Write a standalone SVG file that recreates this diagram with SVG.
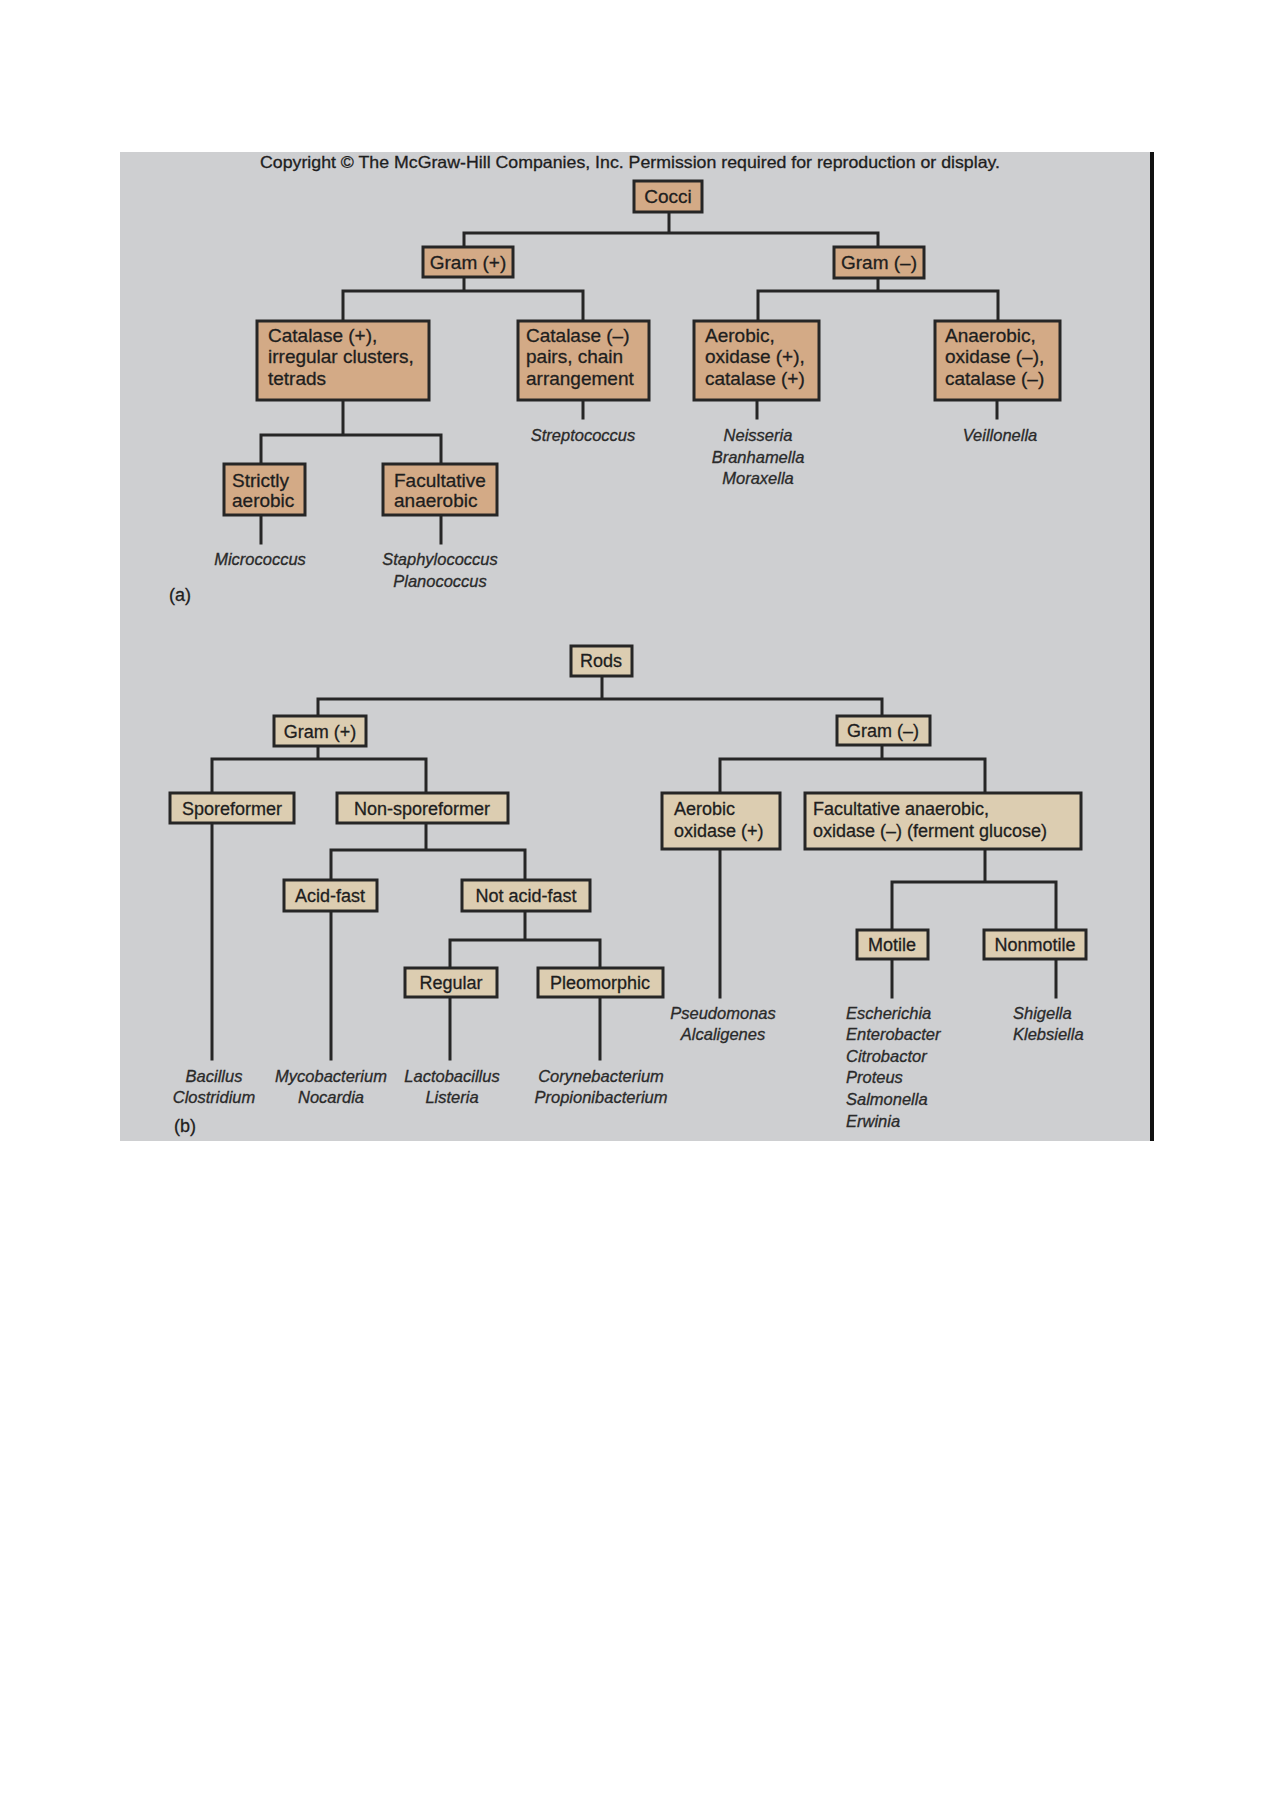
<svg xmlns="http://www.w3.org/2000/svg" width="1280" height="1811" viewBox="0 0 1280 1811">
<style>
.bg{fill:#ffffff}
.panel{fill:#cecfd1}
.boxA{fill:#d3aa86;stroke:#262626;stroke-width:3}
.boxB{fill:#dccdb1;stroke:#262626;stroke-width:3}
.conn{fill:none;stroke:#262626;stroke-width:3;stroke-linecap:square}
.t{font-family:"Liberation Sans",Arial,sans-serif;fill:#1e1e1e;stroke:#1e1e1e;stroke-width:0.3}
.ta{font-size:19px}
.tb{font-size:18px}
.c{text-anchor:middle}
.sp{font-family:"Liberation Sans",Arial,sans-serif;font-style:italic;font-size:16.5px;fill:#2a2a2a;stroke:#2a2a2a;stroke-width:0.3}
</style>
<rect class="bg" x="0" y="0" width="1280" height="1811"/>
<rect class="panel" x="120" y="152" width="1032" height="989"/>
<rect x="1150" y="152" width="4" height="989" fill="#111111"/>
<text class="t" x="260" y="168" font-size="16.5" textLength="740" lengthAdjust="spacingAndGlyphs">Copyright © The McGraw-Hill Companies, Inc. Permission required for reproduction or display.</text>

<g id="connectors">
<path class="conn" d="M669 212 V233 M464 233 H878 M464 233 V247 M878 233 V247
M464 277 V291 M343 291 H583 M343 291 V321 M583 291 V321
M878 278 V291 M758 291 H998 M758 291 V321 M998 291 V321
M343 400 V435 M261 435 H441 M261 435 V464 M441 435 V464
M261 515 V543 M441 515 V543
M583 400 V418 M757 400 V418 M997 400 V418
M602 676 V699 M318 699 H882 M318 699 V716 M882 699 V716
M318 746 V759 M212 759 H426 M212 759 V793 M426 759 V793
M882 745 V759 M720 759 H985 M720 759 V793 M985 759 V793
M212 823 V1059
M426 823 V850 M331 850 H525 M331 850 V880 M525 850 V880
M331 911 V1059
M525 911 V940 M450 940 H600 M450 940 V968 M600 940 V968
M450 997 V1059 M600 997 V1059
M720 849 V997
M985 849 V882 M892 882 H1056 M892 882 V930 M1056 882 V930
M892 959 V997 M1056 959 V997"/>
</g>

<!-- (a) Cocci -->
<g id="cocci"><rect class="boxA" x="634" y="181" width="68" height="31"/><text class="t ta c" x="668" y="203">Cocci</text></g>
<g id="gram-pos-a"><rect class="boxA" x="423" y="247" width="90" height="30"/><text class="t ta c" x="468" y="269">Gram (+)</text></g>
<g id="gram-neg-a"><rect class="boxA" x="834" y="247" width="90" height="31"/><text class="t ta c" x="879" y="269">Gram (–)</text></g>
<g id="catalase-pos"><rect class="boxA" x="257" y="321" width="172" height="79"/>
<text class="t ta" x="268" y="342">Catalase (+),</text><text class="t ta" x="268" y="363">irregular clusters,</text><text class="t ta" x="268" y="385">tetrads</text></g>
<g id="catalase-neg"><rect class="boxA" x="518" y="321" width="131" height="79"/>
<text class="t ta" x="526" y="342">Catalase (–)</text><text class="t ta" x="526" y="363">pairs, chain</text><text class="t ta" x="526" y="385">arrangement</text></g>
<g id="aerobic-a"><rect class="boxA" x="694" y="321" width="125" height="79"/>
<text class="t ta" x="705" y="342">Aerobic,</text><text class="t ta" x="705" y="363">oxidase (+),</text><text class="t ta" x="705" y="385">catalase (+)</text></g>
<g id="anaerobic-a"><rect class="boxA" x="935" y="321" width="125" height="79"/>
<text class="t ta" x="945" y="342">Anaerobic,</text><text class="t ta" x="945" y="363">oxidase (–),</text><text class="t ta" x="945" y="385">catalase (–)</text></g>
<g id="strictly-aerobic"><rect class="boxA" x="224" y="464" width="81" height="51"/>
<text class="t ta" x="232" y="487">Strictly</text><text class="t ta" x="232" y="507">aerobic</text></g>
<g id="facultative-a"><rect class="boxA" x="383" y="464" width="114" height="51"/>
<text class="t ta" x="394" y="487">Facultative</text><text class="t ta" x="394" y="507">anaerobic</text></g>

<g id="species-a">
<text class="sp c" x="583" y="441">Streptococcus</text>
<text class="sp c" x="758" y="441">Neisseria</text>
<text class="sp c" x="758" y="463">Branhamella</text>
<text class="sp c" x="758" y="484">Moraxella</text>
<text class="sp c" x="1000" y="441">Veillonella</text>
<text class="sp c" x="260" y="565">Micrococcus</text>
<text class="sp c" x="440" y="565">Staphylococcus</text>
<text class="sp c" x="440" y="587">Planococcus</text>
</g>
<text class="t" x="169" y="601" font-size="18">(a)</text>

<!-- (b) Rods -->
<g id="rods"><rect class="boxB" x="571" y="646" width="61" height="30"/><text class="t tb c" x="601" y="667">Rods</text></g>
<g id="gram-pos-b"><rect class="boxB" x="274" y="716" width="92" height="30"/><text class="t tb c" x="320" y="738">Gram (+)</text></g>
<g id="gram-neg-b"><rect class="boxB" x="837" y="716" width="93" height="29"/><text class="t tb c" x="883" y="737">Gram (–)</text></g>
<g id="sporeformer"><rect class="boxB" x="170" y="793" width="124" height="30"/><text class="t tb c" x="232" y="815">Sporeformer</text></g>
<g id="non-sporeformer"><rect class="boxB" x="337" y="793" width="171" height="30"/><text class="t tb c" x="422" y="815">Non-sporeformer</text></g>
<g id="aerobic-b"><rect class="boxB" x="662" y="793" width="118" height="56"/>
<text class="t tb" x="674" y="815">Aerobic</text><text class="t tb" x="674" y="837">oxidase (+)</text></g>
<g id="facultative-b"><rect class="boxB" x="805" y="793" width="276" height="56"/>
<text class="t tb" x="813" y="815">Facultative anaerobic,</text><text class="t tb" x="813" y="837">oxidase (–) (ferment glucose)</text></g>
<g id="acid-fast"><rect class="boxB" x="284" y="880" width="93" height="31"/><text class="t tb c" x="330" y="902">Acid-fast</text></g>
<g id="not-acid-fast"><rect class="boxB" x="462" y="880" width="128" height="31"/><text class="t tb c" x="526" y="902">Not acid-fast</text></g>
<g id="regular"><rect class="boxB" x="405" y="968" width="92" height="29"/><text class="t tb c" x="451" y="989">Regular</text></g>
<g id="pleomorphic"><rect class="boxB" x="538" y="968" width="125" height="29"/><text class="t tb c" x="600" y="989">Pleomorphic</text></g>
<g id="motile"><rect class="boxB" x="857" y="930" width="71" height="29"/><text class="t tb c" x="892" y="951">Motile</text></g>
<g id="nonmotile"><rect class="boxB" x="984" y="930" width="102" height="29"/><text class="t tb c" x="1035" y="951">Nonmotile</text></g>

<g id="species-b">
<text class="sp c" x="214" y="1082">Bacillus</text>
<text class="sp c" x="214" y="1103">Clostridium</text>
<text class="sp c" x="331" y="1082">Mycobacterium</text>
<text class="sp c" x="331" y="1103">Nocardia</text>
<text class="sp c" x="452" y="1082">Lactobacillus</text>
<text class="sp c" x="452" y="1103">Listeria</text>
<text class="sp c" x="601" y="1082">Corynebacterium</text>
<text class="sp c" x="601" y="1103">Propionibacterium</text>
<text class="sp c" x="723" y="1019">Pseudomonas</text>
<text class="sp c" x="723" y="1040">Alcaligenes</text>
<text class="sp" x="846" y="1019">Escherichia</text>
<text class="sp" x="846" y="1040">Enterobacter</text>
<text class="sp" x="846" y="1062">Citrobactor</text>
<text class="sp" x="846" y="1083">Proteus</text>
<text class="sp" x="846" y="1105">Salmonella</text>
<text class="sp" x="846" y="1127">Erwinia</text>
<text class="sp" x="1013" y="1019">Shigella</text>
<text class="sp" x="1013" y="1040">Klebsiella</text>
</g>
<text class="t" x="174" y="1132" font-size="18">(b)</text>
</svg>
